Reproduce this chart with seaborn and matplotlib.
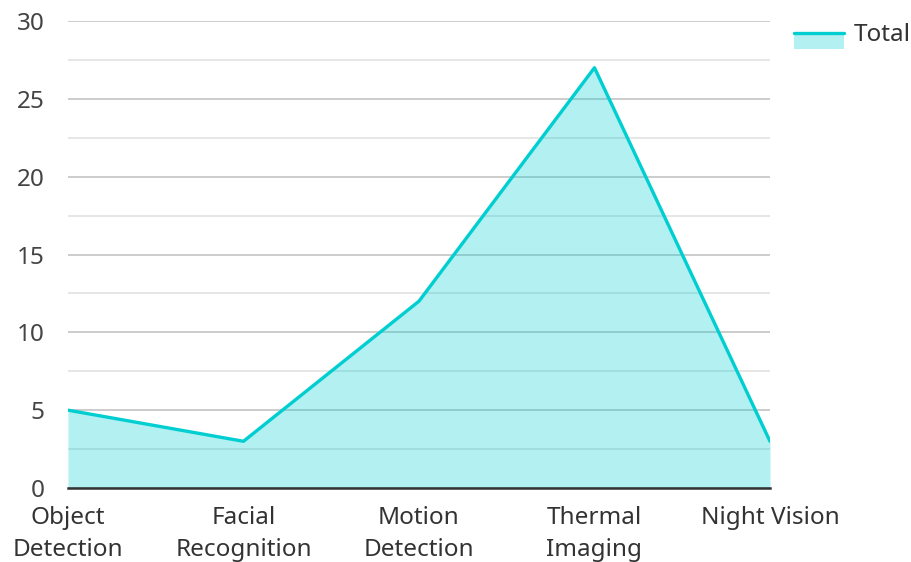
import textwrap
import numpy as np
import pandas as pd
import seaborn as sns
import matplotlib.pyplot as plt
from matplotlib.lines import Line2D
from matplotlib.patches import Patch, Rectangle
from matplotlib.legend_handler import HandlerBase

categories = ['Object Detection', 'Facial Recognition', 'Motion Detection',
              'Thermal Imaging', 'Night Vision']
totals = [5, 3, 12, 27, 3]
series_name = 'Total'

line_col = '#00CED1'


class AreaHandler(HandlerBase):
    # filled box with the line along its top edge, like the area legend
    def create_artists(self, legend, orig_handle, xdescent, ydescent,
                       width, height, fontsize, trans):
        top = height * 0.45
        bottom = -height * 0.45
        rect = Rectangle((-xdescent, bottom - ydescent), width, top - bottom,
                         facecolor=line_col, alpha=0.3, edgecolor='none', transform=trans)
        line = Line2D([-xdescent, -xdescent + width], [top - ydescent, top - ydescent],
                      color=line_col, lw=2.4, transform=trans)
        return [rect, line]


sns.set_theme(style='white')
plt.rcParams['font.family'] = ['Noto Sans', 'DejaVu Sans']

df = pd.DataFrame({'pos': np.arange(len(categories)), 'value': totals})

fig = plt.figure(figsize=(9.11, 5.62), dpi=100)
ax = fig.add_axes([0.0746, 0.1317, 0.7706, 0.8309])

ax.fill_between(df['pos'], df['value'], 0, color=line_col, alpha=0.3, lw=0, zorder=2)
sns.lineplot(data=df, x='pos', y='value', ax=ax, color=line_col, lw=2.4, zorder=3)

ax.set_xlim(0, len(categories) - 1)
ax.set_ylim(0, 30)
ax.set_yticks([0, 5, 10, 15, 20, 25, 30])
ax.set_yticks([2.5, 7.5, 12.5, 17.5, 22.5, 27.5], minor=True)
ax.grid(which='major', axis='y', color='#c8c8c8', lw=1.3, zorder=1)
ax.grid(which='minor', axis='y', color='#e4e4e4', lw=1.3, zorder=1)
ax.grid(False, axis='x')
ax.set_axisbelow(True)

ax.set_xticks(df['pos'])
ax.set_xticklabels([textwrap.fill(c, 12) for c in categories])
ax.tick_params(axis='x', length=0, pad=13, labelsize=17.5, colors='#333333')
ax.tick_params(axis='y', which='both', length=0, pad=17, labelsize=17.5, colors='#444444')
for lab in ax.get_xticklabels():
    lab.set_linespacing(1.45)
    lab.set_verticalalignment('top')

for s in ['top', 'right', 'left']:
    ax.spines[s].set_visible(False)
ax.spines['bottom'].set_color('#333333')
ax.spines['bottom'].set_linewidth(1.8)
ax.spines['bottom'].set_zorder(4)
ax.set_xlabel('')
ax.set_ylabel('')

handle = Patch(facecolor=line_col)
fig.legend([handle], [series_name], loc='upper left', bbox_to_anchor=(0.848, 0.998),
           frameon=False, fontsize=17.5, handlelength=2.05, handletextpad=0.4,
           labelcolor='#333333', handler_map={Patch: AreaHandler()})

fig.savefig('out.png', dpi=100)
